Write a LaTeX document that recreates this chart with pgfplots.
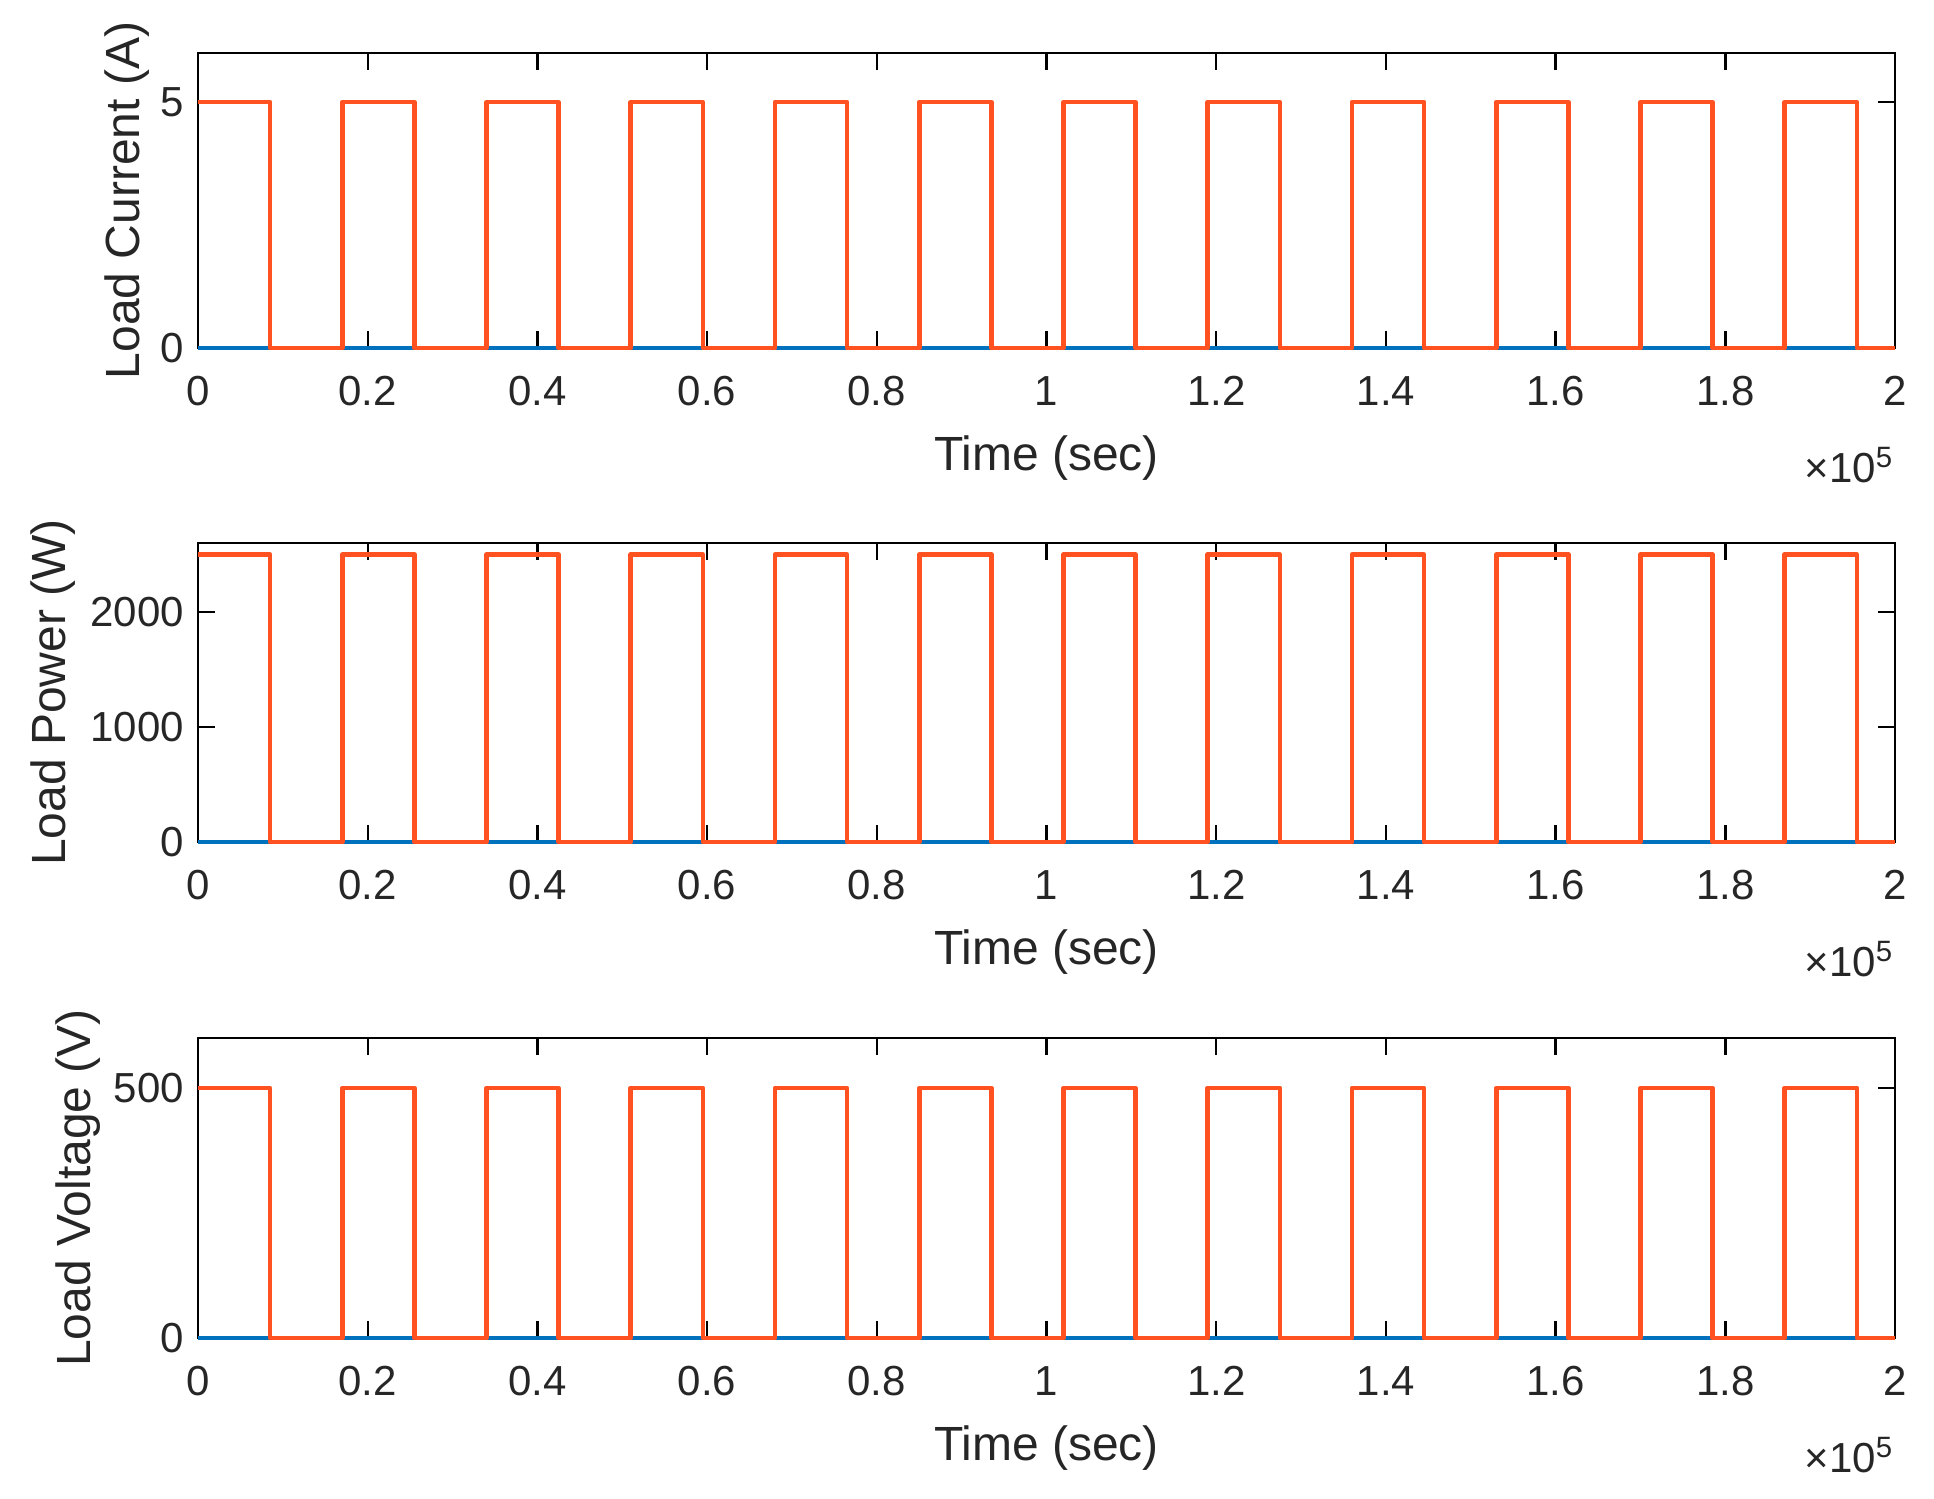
\documentclass[border=0pt]{standalone}
\usepackage{fontspec}
\setmainfont{Liberation Sans}
\usepackage{pgfplots}
\usepackage{pgfplotstable}
\pgfplotsset{compat=1.18}
\definecolor{mlblue}{RGB}{0,114,189}
\definecolor{mlorange}{RGB}{255,82,32}
\definecolor{axgray}{RGB}{38,38,38}

\pgfplotstableread{
t i p v
0 5 2500 500
8500 5 2500 500
8500 0 0 0
17000 0 0 0
17000 5 2500 500
25500 5 2500 500
25500 0 0 0
34000 0 0 0
34000 5 2500 500
42500 5 2500 500
42500 0 0 0
51000 0 0 0
51000 5 2500 500
59500 5 2500 500
59500 0 0 0
68000 0 0 0
68000 5 2500 500
76500 5 2500 500
76500 0 0 0
85000 0 0 0
85000 5 2500 500
93500 5 2500 500
93500 0 0 0
102000 0 0 0
102000 5 2500 500
110500 5 2500 500
110500 0 0 0
119000 0 0 0
119000 5 2500 500
127500 5 2500 500
127500 0 0 0
136000 0 0 0
136000 5 2500 500
144500 5 2500 500
144500 0 0 0
153000 0 0 0
153000 5 2500 500
161500 5 2500 500
161500 0 0 0
170000 0 0 0
170000 5 2500 500
178500 5 2500 500
178500 0 0 0
187000 0 0 0
187000 5 2500 500
195500 5 2500 500
195500 0 0 0
200000 0 0 0
}\loadtable

\pgfplotstableread{
t z
0 0
200000 0
}\zerotable

\pgfplotsset{
  mlaxis/.style={
    scale only axis,
    width=424.25pt,
    xmin=0, xmax=200000,
    ymin=0,
    xtick={0,20000,40000,60000,80000,100000,120000,140000,160000,180000,200000},
    xticklabels={0,0.2,0.4,0.6,0.8,1,1.2,1.4,1.6,1.8,2},
    scaled x ticks=false,
    scaled y ticks=false,
    tick align=inside,
    major tick length=4.25pt,
    axis line style={black, line width=0.6pt},
    every tick/.style={black, line width=0.6pt},
    ticklabel style={font=\fontsize{10.5}{12}\selectfont, text=axgray},
    xticklabel style={yshift=-3.5pt},
    yticklabel={\pgfmathprintnumber[assume math mode=true,1000 sep={}]{\tick}},
    label style={font=\fontsize{12}{14}\selectfont, text=axgray},
    xlabel={Time (sec)},
    xlabel shift=0.5pt,
    clip=false,
  },
  ser0/.style={mlblue, line width=1.15pt},
  ser1/.style={mlorange, line width=1.15pt, line join=round},
}
\newcommand{\scalelabel}{\node[anchor=north east, inner sep=0pt, text=axgray, font=\fontsize{10.5}{12}\selectfont] at (rel axis cs:1,0) [yshift=-24.5pt] {×10\textsuperscript{5}};}

\begin{document}
\begin{tikzpicture}
\useasboundingbox (0,0) rectangle (483.5pt,-374.5pt);

\begin{axis}[mlaxis, at={(49.5pt,-87pt)}, anchor=south west,
  height=73.75pt, ymax=6, ytick={0,5}, ylabel={Load Current (A)}, ylabel shift=-4pt]
\addplot[ser0] table[x=t,y=z] {\zerotable};
\addplot[ser1] table[x=t,y=i] {\loadtable};
\scalelabel
\end{axis}

\begin{axis}[mlaxis, at={(49.5pt,-210.5pt)}, anchor=south west,
  height=74.75pt, ymax=2600, ytick={0,1000,2000}, ylabel={Load Power (W)}, ylabel shift=-3pt]
\addplot[ser0] table[x=t,y=z] {\zerotable};
\addplot[ser1] table[x=t,y=p] {\loadtable};
\scalelabel
\end{axis}

\begin{axis}[mlaxis, at={(49.5pt,-334.5pt)}, anchor=south west,
  height=75pt, ymax=600, ytick={0,500}, ylabel={Load Voltage (V)}, ylabel shift=-3.5pt]
\addplot[ser0] table[x=t,y=z] {\zerotable};
\addplot[ser1] table[x=t,y=v] {\loadtable};
\scalelabel
\end{axis}
\end{tikzpicture}
\end{document}
